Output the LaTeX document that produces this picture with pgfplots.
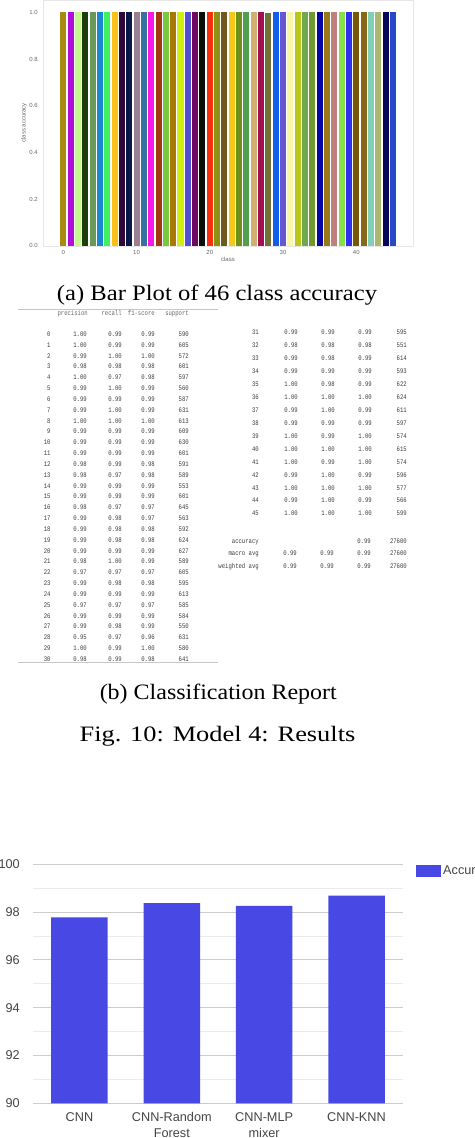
\documentclass[border=0pt]{standalone}
\usepackage{pgfplots}
\pgfplotsset{compat=1.18}
\usepackage{fontspec}
\usepackage{graphicx}
\setmainfont{Liberation Serif}
\setsansfont{Liberation Sans}
\setmonofont{Liberation Mono}

% bar colours, class 0..45
\definecolor{c0}{HTML}{A88A12}\definecolor{c1}{HTML}{B010D8}\definecolor{c2}{HTML}{C8F890}
\definecolor{c3}{HTML}{1A4010}\definecolor{c4}{HTML}{68985A}\definecolor{c5}{HTML}{1888D0}
\definecolor{c6}{HTML}{40F060}\definecolor{c7}{HTML}{F8C018}\definecolor{c8}{HTML}{300838}
\definecolor{c9}{HTML}{0A1848}\definecolor{c10}{HTML}{988090}\definecolor{c11}{HTML}{3870A0}
\definecolor{c12}{HTML}{F818E8}\definecolor{c13}{HTML}{A03810}\definecolor{c14}{HTML}{78C840}
\definecolor{c15}{HTML}{A87808}\definecolor{c16}{HTML}{D0F010}\definecolor{c17}{HTML}{5050D0}
\definecolor{c18}{HTML}{700860}\definecolor{c19}{HTML}{081008}\definecolor{c20}{HTML}{F83010}
\definecolor{c21}{HTML}{909010}\definecolor{c22}{HTML}{705820}\definecolor{c23}{HTML}{F8C818}
\definecolor{c24}{HTML}{70901A}\definecolor{c25}{HTML}{50A050}\definecolor{c26}{HTML}{D0B070}
\definecolor{c27}{HTML}{A01050}\definecolor{c28}{HTML}{707038}\definecolor{c29}{HTML}{1060F0}
\definecolor{c30}{HTML}{6858D0}\definecolor{c31}{HTML}{F8F8A8}\definecolor{c32}{HTML}{B8C818}
\definecolor{c33}{HTML}{70A850}\definecolor{c34}{HTML}{709A30}\definecolor{c35}{HTML}{0808A0}
\definecolor{c36}{HTML}{987818}\definecolor{c37}{HTML}{C08080}\definecolor{c38}{HTML}{88E048}
\definecolor{c39}{HTML}{3030F0}\definecolor{c40}{HTML}{785808}\definecolor{c41}{HTML}{886818}
\definecolor{c42}{HTML}{80D0B8}\definecolor{c43}{HTML}{A8B870}\definecolor{c44}{HTML}{080858}
\definecolor{c45}{HTML}{2848C8}

\definecolor{axisgray}{HTML}{E6E6E6}
\definecolor{tick666}{HTML}{666666}
\definecolor{tick444}{HTML}{444444}
\definecolor{barblue}{HTML}{4848E4}
\definecolor{gridmajor}{HTML}{CCCCCC}
\definecolor{gridminor}{HTML}{EBEBEB}
\definecolor{tabtxt}{HTML}{3C3C3C}
\definecolor{rulegray}{HTML}{C8C8C8}

% one right-aligned column of the report: x, top y, row pitch, rows
\newcommand\tcol[4]{\node[anchor=north east, inner sep=0pt, text=tabtxt] at (#1pt,-#2pt)
  {\scalebox{0.8}[1]{\fontsize{7}{#3}\selectfont\ttfamily\begin{tabular}{@{}r@{}}#4\end{tabular}}};}
\newcommand\thead[2]{\node[anchor=base east, inner sep=0pt, text=tick666] at (#1pt,-315.3pt)
  {\scalebox{0.8}[1]{\fontsize{7}{8}\selectfont\ttfamily #2}};}

\begin{document}
\begin{tikzpicture}
\useasboundingbox (0pt,0pt) rectangle (474pt,-1138pt);
\clip (0pt,0pt) rectangle (474pt,-1138pt);

%% (a) per-class accuracy
\begin{axis}[
    at={(43.3pt,-245.7pt)}, anchor=south west,
    scale only axis, width=369.4pt, height=245.7pt,
    xmin=-2.73, xmax=47.7, ymin=0, ymax=1.0527,
    xtick={0,10,20,30,40},
    ytick={0,0.2,0.4,0.6,0.8,1.0},
    yticklabel style={/pgf/number format/fixed, /pgf/number format/precision=1,
        /pgf/number format/fixed zerofill, anchor=east, inner sep=0pt, xshift=-5.3pt},
    xticklabel style={anchor=north, inner sep=0pt, yshift=-4pt},
    /pgf/number format/assume math mode=true,
    tick label style={font=\fontsize{6}{7}\selectfont\sffamily, text=tick666},
    major tick length=0pt,
    axis line style={draw=axisgray},
    xlabel={class}, ylabel={class accuracy},
    label style={font=\fontsize{6}{7}\selectfont\sffamily, text=tick666},
    x label style={at={(axis description cs:0.5,-0.0541)}, anchor=center},
    y label style={at={(axis description cs:-0.0522,0.5)}, anchor=center},
    every axis plot/.append style={ybar, bar width=0.82, bar shift=0pt, draw=none},
]
\addplot[fill=c0] coordinates {(0,1.00)};
\addplot[fill=c1] coordinates {(1,1.00)};
\addplot[fill=c2] coordinates {(2,1.00)};
\addplot[fill=c3] coordinates {(3,1.00)};
\addplot[fill=c4] coordinates {(4,1.00)};
\addplot[fill=c5] coordinates {(5,1.00)};
\addplot[fill=c6] coordinates {(6,1.00)};
\addplot[fill=c7] coordinates {(7,1.00)};
\addplot[fill=c8] coordinates {(8,1.00)};
\addplot[fill=c9] coordinates {(9,1.00)};
\addplot[fill=c10] coordinates {(10,1.00)};
\addplot[fill=c11] coordinates {(11,1.00)};
\addplot[fill=c12] coordinates {(12,1.00)};
\addplot[fill=c13] coordinates {(13,1.00)};
\addplot[fill=c14] coordinates {(14,1.00)};
\addplot[fill=c15] coordinates {(15,1.00)};
\addplot[fill=c16] coordinates {(16,1.00)};
\addplot[fill=c17] coordinates {(17,1.00)};
\addplot[fill=c18] coordinates {(18,1.00)};
\addplot[fill=c19] coordinates {(19,1.00)};
\addplot[fill=c20] coordinates {(20,1.00)};
\addplot[fill=c21] coordinates {(21,1.00)};
\addplot[fill=c22] coordinates {(22,1.00)};
\addplot[fill=c23] coordinates {(23,1.00)};
\addplot[fill=c24] coordinates {(24,1.00)};
\addplot[fill=c25] coordinates {(25,1.00)};
\addplot[fill=c26] coordinates {(26,1.00)};
\addplot[fill=c27] coordinates {(27,1.00)};
\addplot[fill=c28] coordinates {(28,0.995)};
\addplot[fill=c29] coordinates {(29,1.00)};
\addplot[fill=c30] coordinates {(30,1.00)};
\addplot[fill=c31] coordinates {(31,1.00)};
\addplot[fill=c32] coordinates {(32,1.00)};
\addplot[fill=c33] coordinates {(33,1.00)};
\addplot[fill=c34] coordinates {(34,1.00)};
\addplot[fill=c35] coordinates {(35,1.00)};
\addplot[fill=c36] coordinates {(36,1.00)};
\addplot[fill=c37] coordinates {(37,1.00)};
\addplot[fill=c38] coordinates {(38,1.00)};
\addplot[fill=c39] coordinates {(39,1.00)};
\addplot[fill=c40] coordinates {(40,1.00)};
\addplot[fill=c41] coordinates {(41,1.00)};
\addplot[fill=c42] coordinates {(42,1.00)};
\addplot[fill=c43] coordinates {(43,1.00)};
\addplot[fill=c44] coordinates {(44,1.00)};
\addplot[fill=c45] coordinates {(45,1.00)};
\end{axis}

\node[anchor=base] at (217pt,-300.7pt)
  {\fontsize{22}{26}\selectfont\scalebox{1.12}[1]{(a) Bar Plot of 46 class accuracy}};

%% (b) classification report
\draw[rulegray, line width=0.8pt] (18pt,-309.5pt) -- (218pt,-309.5pt);
\thead{88}{precision}\thead{122}{recall}\thead{155}{f1-score}\thead{189}{support}

\tcol{50.7}{328.7}{10.83}{0\\1\\2\\3\\4\\5\\6\\7\\8\\9\\10\\11\\12\\13\\14\\15\\16\\17\\18\\19\\20\\21\\22\\23\\24\\25\\26\\27\\28\\29\\30}
\tcol{87}{328.7}{10.83}{1.00\\1.00\\0.99\\0.98\\1.00\\0.99\\0.99\\0.99\\1.00\\0.99\\0.99\\0.99\\0.98\\0.98\\0.99\\0.99\\0.98\\0.99\\0.99\\0.99\\0.99\\0.98\\0.97\\0.99\\0.99\\0.97\\0.99\\0.99\\0.95\\1.00\\0.98}
\tcol{122}{328.7}{10.83}{0.99\\0.99\\1.00\\0.98\\0.97\\1.00\\0.99\\1.00\\1.00\\0.99\\0.99\\0.99\\0.99\\0.97\\0.99\\0.99\\0.97\\0.98\\0.98\\0.98\\0.99\\1.00\\0.97\\0.98\\0.99\\0.97\\0.99\\0.98\\0.97\\0.99\\0.99}
\tcol{155}{328.7}{10.83}{0.99\\0.99\\1.00\\0.98\\0.98\\0.99\\0.99\\0.99\\1.00\\0.99\\0.99\\0.99\\0.98\\0.98\\0.99\\0.99\\0.97\\0.97\\0.98\\0.98\\0.99\\0.99\\0.97\\0.98\\0.99\\0.97\\0.99\\0.99\\0.96\\1.00\\0.98}
\tcol{189}{328.7}{10.83}{590\\605\\572\\601\\597\\560\\587\\631\\613\\609\\630\\601\\591\\589\\553\\601\\645\\563\\592\\624\\627\\589\\605\\595\\613\\585\\584\\550\\631\\580\\641}
\fill[white] (16pt,-663.2pt) rectangle (222pt,-672pt);
\draw[rulegray, line width=0.8pt] (18pt,-662.7pt) -- (218pt,-662.7pt);

\tcol{259}{325.6}{12.93}{31\\32\\33\\34\\35\\36\\37\\38\\39\\40\\41\\42\\43\\44\\45}
\tcol{298}{325.6}{12.93}{0.99\\0.98\\0.99\\0.99\\1.00\\1.00\\0.99\\0.99\\1.00\\1.00\\1.00\\0.99\\1.00\\0.99\\1.00}
\tcol{335}{325.6}{12.93}{0.99\\0.98\\0.98\\0.99\\0.98\\1.00\\1.00\\0.99\\0.99\\1.00\\0.99\\1.00\\1.00\\1.00\\1.00}
\tcol{372}{325.6}{12.93}{0.99\\0.98\\0.99\\0.99\\0.99\\1.00\\0.99\\0.99\\1.00\\1.00\\1.00\\0.99\\1.00\\0.99\\1.00}
\tcol{407}{325.6}{12.93}{595\\551\\614\\593\\622\\624\\611\\597\\574\\615\\574\\596\\577\\566\\599}

\tcol{259}{534.2}{12.5}{accuracy\\macro avg\\weighted avg}
\tcol{297}{534.2}{12.5}{\\0.99\\0.99}
\tcol{334}{534.2}{12.5}{\\0.99\\0.99}
\tcol{371}{534.2}{12.5}{0.99\\0.99\\0.99}
\tcol{407}{534.2}{12.5}{27600\\27600\\27600}

\node[anchor=base] at (218.3pt,-699.3pt)
  {\fontsize{22}{26}\selectfont\scalebox{1.09}[1]{(b) Classification Report}};
\node[anchor=base] at (217.5pt,-741.7pt)
  {\fontsize{22}{26}\selectfont\scalebox{1.2}[1]{Fig. 10: Model 4: Results}};

%% model comparison
\begin{axis}[
    at={(33.3pt,-1103.3pt)}, anchor=south west,
    scale only axis, width=369.4pt, height=239pt,
    xmin=-0.5, xmax=3.5, ymin=90, ymax=100,
    ytick={90,92,94,96,98,100}, minor ytick={91,93,95,97,99},
    ymajorgrids, yminorgrids,
    major grid style={draw=gridmajor, line width=0.9pt},
    minor grid style={draw=gridminor, line width=0.8pt},
    xtick={0,1,2,3},
    xticklabels={CNN,{CNN-Random\\Forest},{CNN-MLP\\mixer},CNN-KNN},
    axis line style={draw=none},
    major tick length=0pt, minor tick length=0pt,
    /pgf/number format/assume math mode=true,
    tick label style={font=\fontsize{12.7}{16}\selectfont\sffamily, text=tick444},
    xticklabel style={align=center, anchor=north, inner sep=0pt, yshift=-9pt},
    yticklabel style={anchor=east, inner sep=0pt, xshift=-13.3pt},
    legend style={at={(1.036,1.0013)}, anchor=north west, draw=none, fill=none,
        inner sep=0pt, font=\fontsize{12.7}{16}\selectfont\sffamily, text=tick444},
    legend image code/.code={\fill[#1] (0pt,-6pt) rectangle (25pt,6pt);},
]
\addplot[ybar, bar width=56.5pt, fill=barblue, draw=none]
    coordinates {(0,97.78) (1,98.38) (2,98.26) (3,98.69)};
\addlegendentry{Accuracy}
\end{axis}
\end{tikzpicture}
\end{document}
